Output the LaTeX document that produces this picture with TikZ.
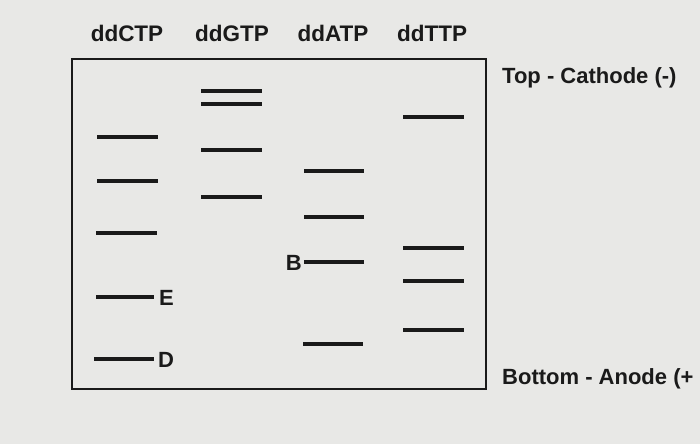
\documentclass[tikz,border=0pt]{standalone}
\usepackage{fontspec}
\setmainfont{Liberation Sans}
\definecolor{bg}{HTML}{E8E8E6}
\definecolor{ink}{HTML}{1A1A1A}
\begin{document}
\begin{tikzpicture}[x=1pt,y=-1pt,
  lane/.style={font=\bfseries\fontsize{22.5}{27}\selectfont, text=ink, inner sep=0pt},
  side/.style={font=\bfseries\fontsize{22}{27}\selectfont, text=ink, inner sep=0pt, anchor=west},
  letter/.style={font=\bfseries\fontsize{22}{27}\selectfont, text=ink, inner sep=0pt},
  band/.style={draw=ink, line width=3.6pt},
  gel/.style={draw=ink, line width=1.8pt}]
\fill[bg] (0,0) rectangle (700,444);
\useasboundingbox (0,0) rectangle (700,444);
% gel outline
\draw[gel] (72,59) rectangle (486,389);
% lane labels
\node[lane] (lc) at (127,33) {ddCTP};
\node[lane] (lg) at (232,33) {ddGTP};
\node[lane] (la) at (333,33) {ddATP};
\node[lane] (lt) at (432,33) {ddTTP};
% side labels
\node[side] (top) at (502,78) {Top - Cathode (-)};
\node[side] (bot) at (502,379) {Bottom - Anode (+};
% ddCTP bands
\draw[band] (97,137) -- (158,137);
\draw[band] (97,181) -- (158,181);
\draw[band] (96,233) -- (157,233);
\draw[band] (96,297) -- (154,297);
\draw[band] (94,359) -- (154,359);
\node[letter,anchor=west] (E) at (159,298) {E};
\node[letter,anchor=west] (D) at (158,360) {D};
% ddGTP bands
\draw[band] (201,91) -- (262,91);
\draw[band] (201,104) -- (262,104);
\draw[band] (201,150) -- (262,150);
\draw[band] (201,197) -- (262,197);
% ddATP bands
\draw[band] (304,171) -- (364,171);
\draw[band] (304,217) -- (364,217);
\draw[band] (304,262) -- (364,262);
\draw[band] (303,344) -- (363,344);
\node[letter,anchor=east] (B) at (302,263) {B};
% ddTTP bands
\draw[band] (403,117) -- (464,117);
\draw[band] (403,248) -- (464,248);
\draw[band] (403,281) -- (464,281);
\draw[band] (403,330) -- (464,330);
\end{tikzpicture}
\end{document}
